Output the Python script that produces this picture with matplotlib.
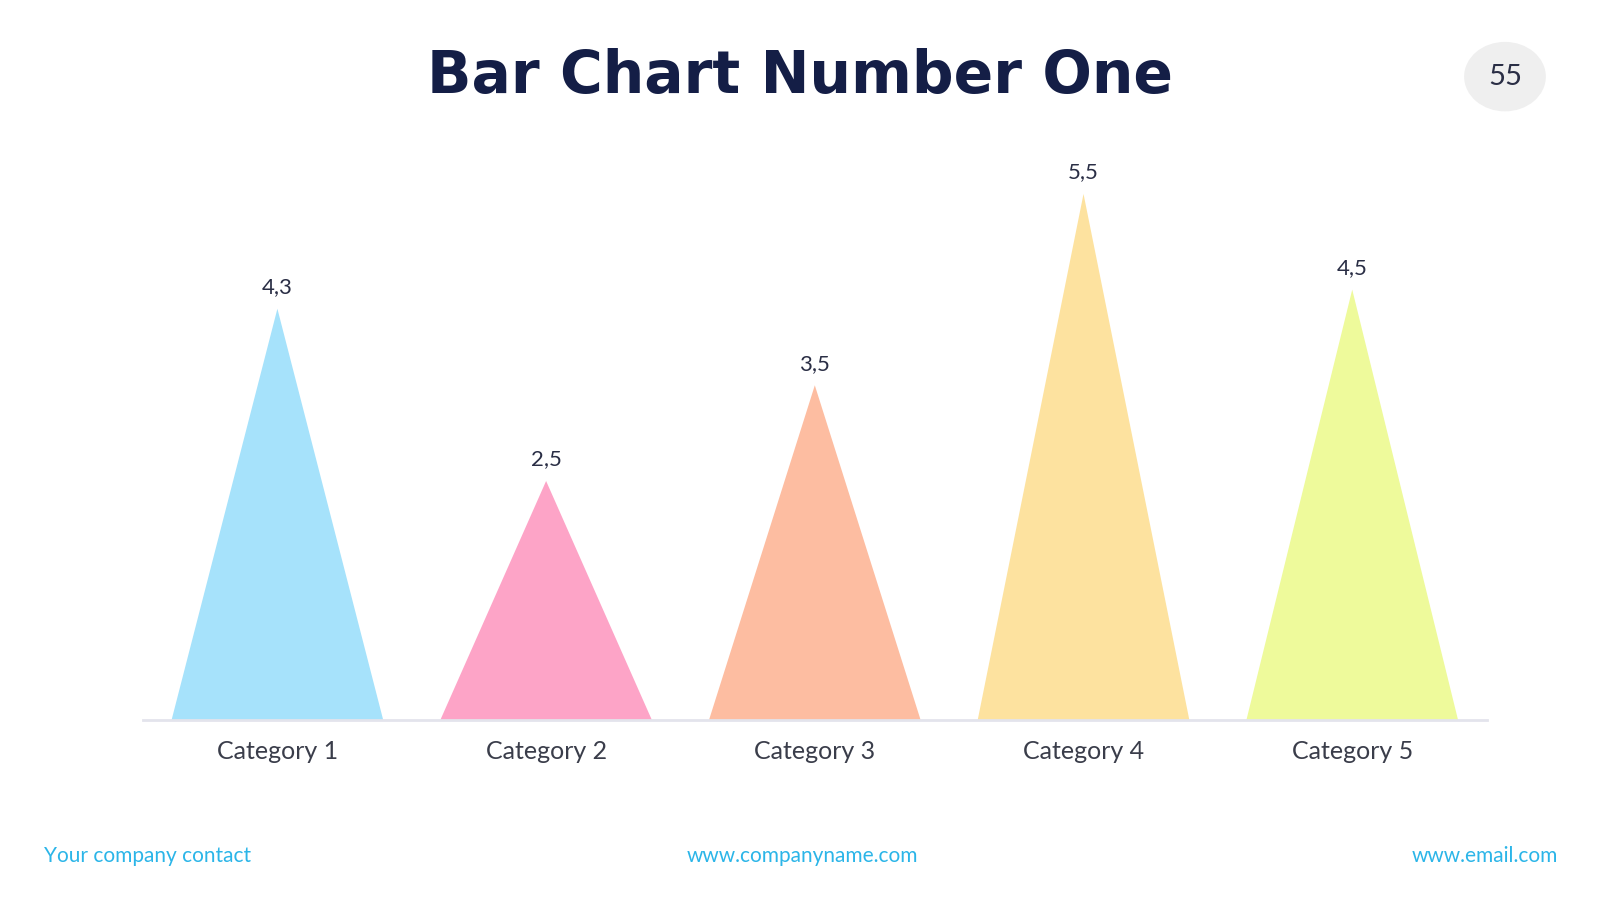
import matplotlib
matplotlib.use("Agg")
import matplotlib.pyplot as plt
from matplotlib.patches import Ellipse

categories = ["Category 1", "Category 2", "Category 3", "Category 4", "Category 5"]
values = [4.3, 2.5, 3.5, 5.5, 4.5]
labels = ["4,3", "2,5", "3,5", "5,5", "4,5"]
colors = ["#A6E2FB", "#FDA4C7", "#FDBDA1", "#FDE29F", "#EEFA9B"]

plt.rcParams['font.family'] = ['Lato', 'DejaVu Sans']
fig = plt.figure(figsize=(16, 9), dpi=100)
W, H = 1566, 881  # reference pixel frame
ax = fig.add_axes([140/W, 1-705/H, 1315/W, 562/H])
ax.set_xlim(-0.5, 4.5)
ax.set_ylim(0, 6)
hw = 0.394
for i, (v, c, lab) in enumerate(zip(values, colors, labels)):
    ax.fill([i-hw, i, i+hw], [0, v, 0], color=c, lw=0)
    ax.text(i, v + 0.12, lab, ha='center', va='bottom', fontsize=16, color='#2A2E45')
ax.set_xticks(range(len(categories)))
ax.set_xticklabels(categories, fontsize=18, color='#3A3D4A')
ax.tick_params(axis='x', length=0, pad=14)
ax.set_yticks([])
for s in ['top', 'right', 'left']:
    ax.spines[s].set_visible(False)
ax.spines['bottom'].set_color('#E3E4EC')
ax.spines['bottom'].set_linewidth(2)

fig.text(783/W, 1-75/H, "Bar Chart Number One", ha='center', va='center',
         fontsize=42, fontweight='bold', family=['DejaVu Sans'], color='#141E46')
circ = Ellipse((1473/W, 1-75/H), 80/W, 68/H, transform=fig.transFigure,
               color='#EFEFEF', lw=0)
fig.add_artist(circ)
fig.text(1473/W, 1-75/H, "55", ha='center', va='center', fontsize=21, color='#2A2E45')

fc = '#2BB5E8'
fig.text(43/W, 1-838/H, "Your company contact", ha='left', va='center', fontsize=15, color=fc)
fig.text(785/W, 1-838/H, "www.companyname.com", ha='center', va='center', fontsize=15, color=fc)
fig.text(1525/W, 1-838/H, "www.email.com", ha='right', va='center', fontsize=15, color=fc)

fig.savefig("out.png", dpi=100, facecolor='white')
